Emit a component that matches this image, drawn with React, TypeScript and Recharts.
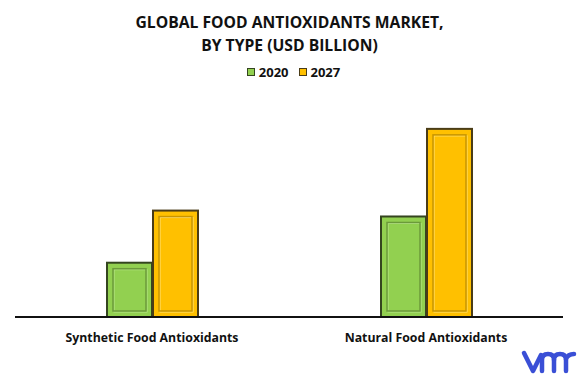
import { BarChart, Bar, XAxis, YAxis, Legend } from "recharts";

const categories = ["Synthetic Food Antioxidants", "Natural Food Antioxidants"];
const values2020 = [1.01, 1.87];
const values2027 = [1.98, 3.5];
const seriesNames = ["2020", "2027"];

const data = categories.map((name, i) => ({
  name,
  y2020: values2020[i],
  y2027: values2027[i],
}));

const FONT = "'Open Sans', sans-serif";

const palette = {
  y2020: { fill: "#92D050", edge: "#34451f", inner: "#6b9a3a", light: "#b8e58a" },
  y2027: { fill: "#FFC000", edge: "#4a3c17", inner: "#c79500", light: "#ffe27a" },
};

function BevelBar(props: any) {
  const { x, y, width, height, colors } = props;
  if (!height || height <= 0) return null;
  const inset = 6;
  return (
    <g>
      <rect x={x} y={y} width={width} height={height} fill={colors.fill} stroke={colors.edge} strokeWidth={2} />
      <rect
        x={x + inset + 1}
        y={y + inset + 1}
        width={width - 2 * inset}
        height={height - 2 * inset}
        fill="none"
        stroke={colors.light}
        strokeWidth={1}
      />
      <rect
        x={x + inset}
        y={y + inset}
        width={width - 2 * inset}
        height={height - 2 * inset}
        fill="none"
        stroke={colors.inner}
        strokeWidth={1.5}
      />
    </g>
  );
}

function LegendContent() {
  const items = [
    { label: seriesNames[0], c: palette.y2020 },
    { label: seriesNames[1], c: palette.y2027 },
  ];
  return (
    <div style={{ display: "flex", justifyContent: "center", gap: 10, fontFamily: FONT, fontWeight: 700, fontSize: 13, color: "#111" }}>
      {items.map((it) => (
        <span key={it.label} style={{ display: "flex", alignItems: "center", gap: 4 }}>
          <span
            style={{
              width: 6,
              height: 6,
              background: it.c.fill,
              border: `1.5px solid ${it.c.edge}`,
              display: "inline-block",
            }}
          />
          {it.label}
        </span>
      ))}
    </div>
  );
}

function Logo() {
  return (
    <svg
      width={58}
      height={30}
      viewBox="0 0 58 30"
      style={{ position: "absolute", left: 519, top: 346 }}
      fill="none"
      stroke="#3a4fd6"
      strokeWidth={4.5}
      strokeLinecap="round"
      strokeLinejoin="round"
    >
      <path d="M5,7 L14,25 L22,9" />
      <path d="M23,25 L23,14 Q23,8 29,8 Q35,8 35,14 L35,25" />
      <path d="M35,14 Q35,8 41,8 Q47,8 47,14 L47,25" />
      <path d="M47,13 Q49,8 55,8" />
    </svg>
  );
}

export default function App() {
  return (
    <div style={{ position: "absolute", left: 0, top: 0, width: 579, height: 378, background: "#fff" }}>
      <div
        style={{
          position: "absolute",
          top: 11,
          left: 0,
          width: 579,
          textAlign: "center",
          fontFamily: FONT,
          fontWeight: 700,
          fontSize: 15.7,
          lineHeight: "23px",
          color: "#111",
        }}
      >
        GLOBAL FOOD ANTIOXIDANTS MARKET,
        <br />
        BY TYPE (USD BILLION)
      </div>
      <BarChart
        width={579}
        height={378}
        data={data}
        margin={{ top: 84, right: 16, left: 15, bottom: 31 }}
        barGap={1}
        barSize={45}
      >
        <XAxis
          dataKey="name"
          axisLine={{ stroke: "#111", strokeWidth: 2 }}
          tickLine={false}
          height={30}
          tick={{ fill: "#111", fontFamily: FONT, fontWeight: 700, fontSize: 12.3 }}
          tickMargin={10}
        />
        <YAxis hide domain={[0, 4]} />
        <Legend
          verticalAlign="top"
          content={<LegendContent />}
          wrapperStyle={{ top: 63, left: 4, width: 579 }}
        />
        <Bar
          dataKey="y2020"
          name={seriesNames[0]}
          fill={palette.y2020.fill}
          isAnimationActive={false}
          shape={(p: any) => <BevelBar {...p} colors={palette.y2020} />}
        />
        <Bar
          dataKey="y2027"
          name={seriesNames[1]}
          fill={palette.y2027.fill}
          isAnimationActive={false}
          shape={(p: any) => <BevelBar {...p} colors={palette.y2027} />}
        />
      </BarChart>
      <Logo />
    </div>
  );
}
